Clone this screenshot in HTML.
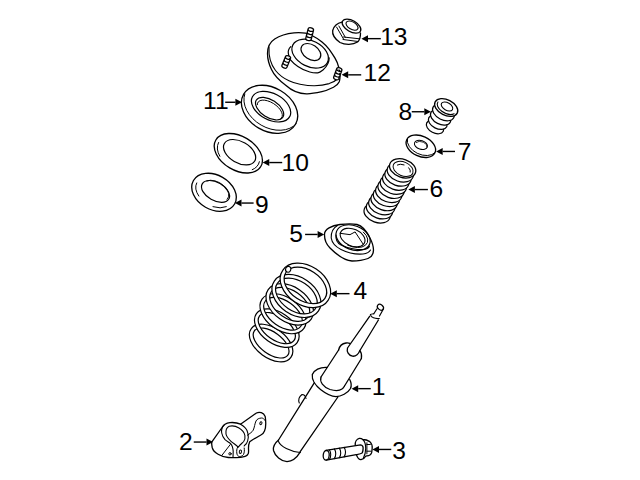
<!DOCTYPE html>
<html><head><meta charset="utf-8"><style>
html,body{margin:0;padding:0;background:#fff;width:640px;height:480px;overflow:hidden}
svg{display:block}
text{font-family:"Liberation Sans",sans-serif;font-size:24.6px;fill:#000;stroke:none}
</style></head><body>
<svg width="640" height="480" viewBox="0 0 640 480">
<g fill="none" stroke="#000" stroke-linecap="round" stroke-linejoin="round">
<text x="380.2" y="45.1">13</text>
<path d="M380.8,38.65 L368.00,38.65" stroke-width="1.4" stroke-linecap="butt"/>
<path d="M361.40,38.65 L368.00,35.15 L368.00,42.15 Z" fill="#000" stroke="none"/>
<text x="363.5" y="81">12</text>
<path d="M361.2,74.85 L348.20,74.85" stroke-width="1.4" stroke-linecap="butt"/>
<path d="M341.60,74.85 L348.20,71.35 L348.20,78.35 Z" fill="#000" stroke="none"/>
<text x="203.1" y="109">11</text>
<path d="M225.2,102.25 L235.40,102.25" stroke-width="1.4" stroke-linecap="butt"/>
<path d="M242.00,102.25 L235.40,98.75 L235.40,105.75 Z" fill="#000" stroke="none"/>
<text x="281.6" y="170.6">10</text>
<path d="M282.2,162.55 L269.25,162.55" stroke-width="1.4" stroke-linecap="butt"/>
<path d="M262.65,162.55 L269.25,159.05 L269.25,166.05 Z" fill="#000" stroke="none"/>
<text x="255" y="213">9</text>
<path d="M253.6,203.05 L241.50,203.05" stroke-width="1.4" stroke-linecap="butt"/>
<path d="M234.90,203.05 L241.50,199.55 L241.50,206.55 Z" fill="#000" stroke="none"/>
<text x="398.6" y="120">8</text>
<path d="M411.75,111.75 L424.30,111.75" stroke-width="1.4" stroke-linecap="butt"/>
<path d="M430.90,111.75 L424.30,108.25 L424.30,115.25 Z" fill="#000" stroke="none"/>
<text x="457.7" y="160.1">7</text>
<path d="M455,151.45 L442.70,151.45" stroke-width="1.4" stroke-linecap="butt"/>
<path d="M436.10,151.45 L442.70,147.95 L442.70,154.95 Z" fill="#000" stroke="none"/>
<text x="429.5" y="197.2">6</text>
<path d="M427.9,189.55 L414.90,189.55" stroke-width="1.4" stroke-linecap="butt"/>
<path d="M408.30,189.55 L414.90,186.05 L414.90,193.05 Z" fill="#000" stroke="none"/>
<text x="289.2" y="242.3">5</text>
<path d="M305.1,234.45 L317.60,234.45" stroke-width="1.4" stroke-linecap="butt"/>
<path d="M324.20,234.45 L317.60,230.95 L317.60,237.95 Z" fill="#000" stroke="none"/>
<text x="353.4" y="299.2">4</text>
<path d="M349.5,293.65 L336.80,293.65" stroke-width="1.4" stroke-linecap="butt"/>
<path d="M330.20,293.65 L336.80,290.15 L336.80,297.15 Z" fill="#000" stroke="none"/>
<text x="371.75" y="395">1</text>
<path d="M370.75,388.65 L358.20,388.65" stroke-width="1.4" stroke-linecap="butt"/>
<path d="M351.60,388.65 L358.20,385.15 L358.20,392.15 Z" fill="#000" stroke="none"/>
<text x="392.3" y="459">3</text>
<path d="M391.25,449.45 L379.00,449.45" stroke-width="1.4" stroke-linecap="butt"/>
<path d="M372.40,449.45 L379.00,445.95 L379.00,452.95 Z" fill="#000" stroke="none"/>
<text x="178.9" y="450">2</text>
<path d="M193.75,442.05 L206.50,442.05" stroke-width="1.4" stroke-linecap="butt"/>
<path d="M213.10,442.05 L206.50,438.55 L206.50,445.55 Z" fill="#000" stroke="none"/>
<path d="M341.9,22.2 C338,23 334,26 332.7,30.5 C332,35 335,39 340,42.5 C345,45 353,45 357.5,42 C360,40 360.5,37 360.5,33" stroke-width="1.3" />
<ellipse cx="351.5" cy="26.1" rx="10.3" ry="5.6" transform="rotate(30 351.5 26.1)" stroke-width="1.3" />
<ellipse cx="352" cy="25.6" rx="6.6" ry="3.7" transform="rotate(30 352 25.6)" stroke-width="1.1" />
<path d="M336.6,27.1 L343.4,38.8 M338.9,26 L345.3,37.3 M343.5,37 L359.5,38.8 M343,39.5 L358,41.5" stroke-width="1.0" />
<path d="M267.5,53.6 C267.5,47 270,42 274.7,39 C280,35.5 287,33.5 294,32.8 C300,32.3 306,32.5 311,35 C315,37 319,39.5 322,42 C325,44.5 327.5,47 329.2,49.3 C331.5,52.5 333.5,55.5 335,58.1 C337,61.5 338,64 338.6,66.8 C339.5,70 340.2,73 340.1,75.6 C340,78 339.8,80 339.4,81.4 C338,84.5 336,86 333.5,87.25 C330,89 326,90.8 321.9,91.6 C317,92.6 312,93.6 307.3,93.8 C300,94 292,91 285.7,85.3 C280,81 274,75 271.5,69.5 C269,64.5 267.5,59 267.5,53.6 Z" stroke-width="1.3" />
<path d="M269,47.3 C268.5,56 270.5,64 275.5,70.5 C279.5,75.5 284,78.5 289,80.8 C292.5,82.5 296,83.6 300,84.3 C305,85.2 310,85.9 314.6,85.8 C320,85.6 325,84.8 329.2,83.6 C333,82.3 336,80.5 337.9,78.5" stroke-width="1.1" />
<ellipse cx="310.15" cy="53.65" rx="19.39" ry="12.88" transform="rotate(26.9 310.15 53.65)" stroke-width="1.2" />
<path d="M290.75,46.7 C288.5,49 288,52 288.4,53.8 C288.8,57 289.5,59 290.75,60.2 C293,63 295.5,65 297.9,66.5 C301.5,69 305.5,71 309.75,72 C312.5,72.7 315,73 317.7,72.8 C319.8,72.5 321.5,71 323.2,69.7 C325.5,68 327,65.5 328,63.3 C328.8,61.5 329.2,59.5 329.2,57.8" stroke-width="1.2" />
<ellipse cx="310.9" cy="52.05" rx="10.87" ry="7.27" transform="rotate(33.8 310.9 52.05)" stroke-width="1.2" />
<path d="M-2.8,0 A2.8,1.7499999999999998 0 0 1 2.8,0 L2.8,9.5 A2.8,1.7499999999999998 0 0 1 -2.8,9.5 Z M-2.8,0 A2.8,1.7499999999999998 0 0 0 2.8,0 M-2.8,3.17 A2.8,1.7499999999999998 0 0 0 2.8,3.17 M-2.8,6.33 A2.8,1.7499999999999998 0 0 0 2.8,6.33 " transform="translate(310.8 29.6) rotate(14)" fill="#fff" stroke-width="1.25"/>
<path d="M-2.7,0 A2.7,1.6875 0 0 1 2.7,0 L2.7,9.5 A2.7,1.6875 0 0 1 -2.7,9.5 Z M-2.7,0 A2.7,1.6875 0 0 0 2.7,0 M-2.7,3.17 A2.7,1.6875 0 0 0 2.7,3.17 M-2.7,6.33 A2.7,1.6875 0 0 0 2.7,6.33 " transform="translate(288 57.5) rotate(22)" fill="#fff" stroke-width="1.25"/>
<path d="M-2.7,0 A2.7,1.6875 0 0 1 2.7,0 L2.7,9.0 A2.7,1.6875 0 0 1 -2.7,9.0 Z M-2.7,0 A2.7,1.6875 0 0 0 2.7,0 M-2.7,3.00 A2.7,1.6875 0 0 0 2.7,3.00 M-2.7,6.00 A2.7,1.6875 0 0 0 2.7,6.00 " transform="translate(339.3 69.5) rotate(20)" fill="#fff" stroke-width="1.25"/>
<ellipse cx="269.55" cy="109.28" rx="29.98" ry="21.7" transform="rotate(29.9 269.55 109.28)" stroke-width="1.3" />
<path d="M296.22,123.77 A30,21.7 30 0 1 244.76,94.06" stroke-width="1.0" />
<ellipse cx="271.05" cy="106.7" rx="21.13" ry="13.18" transform="rotate(28.1 271.05 106.7)" stroke-width="1.2" />
<ellipse cx="269.6" cy="108.65" rx="15.82" ry="8.8" transform="rotate(33.1 269.6 108.65)" stroke-width="1.2" />
<path d="M257.27,104.68 A14.3,7.3 33 1 1 280.46,119.01" stroke-width="1.0" />
<ellipse cx="238.32" cy="153.25" rx="26.11" ry="16.97" transform="rotate(30.6 238.32 153.25)" stroke-width="1.3" />
<ellipse cx="239.57" cy="152.2" rx="17.52" ry="10.62" transform="rotate(30.0 239.57 152.2)" stroke-width="1.2" />
<path d="M219.84,156.30 A22.5,15.5 30 0 1 218.56,142.48" stroke-width="1.0" />
<path d="M259.39,161.71 A23,15.5 30 0 1 252.25,169.71" stroke-width="1.0" />
<ellipse cx="214.03" cy="192.28" rx="23.69" ry="17.23" transform="rotate(29.7 214.03 192.28)" stroke-width="1.3" />
<ellipse cx="215.53" cy="191.43" rx="15.3" ry="9.06" transform="rotate(29.7 215.53 191.43)" stroke-width="1.2" />
<path d="M206.85,181.00 A14,8.5 33 0 1 227.06,199.35" stroke-width="0.9" />
<path d="M198.85,196.09 A19.69,13.23 29.7 0 1 196.70,182.93" stroke-width="1.0" />
<path d="M226.32,206.71 A20.19,13.73 29.7 0 1 212.97,206.71" stroke-width="1.0" />
<ellipse cx="435.0" cy="127.1" rx="9.3" ry="5.85" transform="rotate(27 435.0 127.1)" stroke-width="1.2" fill="#fff"/>
<ellipse cx="437.8" cy="122.2" rx="10.08" ry="6.34" transform="rotate(27 437.8 122.2)" stroke-width="1.2" fill="#fff"/>
<ellipse cx="440.6" cy="117.3" rx="10.85" ry="6.83" transform="rotate(27 440.6 117.3)" stroke-width="1.2" fill="#fff"/>
<ellipse cx="443.4" cy="112.4" rx="11.62" ry="7.31" transform="rotate(27 443.4 112.4)" stroke-width="1.2" fill="#fff"/>
<ellipse cx="446.2" cy="107.5" rx="12.4" ry="7.8" transform="rotate(27 446.2 107.5)" stroke-width="1.3" fill="#fff"/>
<path d="M454.13,113.78 A10.4,6.1 27 0 1 437.91,102.02" stroke-width="1.1" />
<ellipse cx="447" cy="106.5" rx="6.3" ry="3.8" transform="rotate(30 447 106.5)" stroke-width="1.1" />
<ellipse cx="420.85" cy="146.25" rx="15.58" ry="10.07" transform="rotate(25.0 420.85 146.25)" stroke-width="1.3" />
<path d="M434.88,152.69 A15.58,10.07 25.0 0 1 407.37,139.10" stroke-width="1.0" />
<ellipse cx="420.95" cy="144.85" rx="6.73" ry="4.27" transform="rotate(17.4 420.95 144.85)" stroke-width="1.0" />
<path d="M416.22,142.46 A6.03,3.6699999999999995 17.4 0 1 427.00,147.15" stroke-width="0.8" />
<ellipse cx="377.15" cy="213.35" rx="13.57" ry="9.06" transform="rotate(19.3 377.15 213.35)" stroke-width="1.2" fill="#fff"/>
<ellipse cx="379.47" cy="209.26" rx="13.57" ry="9.06" transform="rotate(19.3 379.47 209.26)" stroke-width="1.2" fill="#fff"/>
<ellipse cx="381.79" cy="205.17" rx="13.57" ry="9.06" transform="rotate(19.3 381.79 205.17)" stroke-width="1.2" fill="#fff"/>
<ellipse cx="384.1" cy="201.08" rx="13.57" ry="9.06" transform="rotate(19.3 384.1 201.08)" stroke-width="1.2" fill="#fff"/>
<ellipse cx="386.42" cy="196.99" rx="13.57" ry="9.06" transform="rotate(19.3 386.42 196.99)" stroke-width="1.2" fill="#fff"/>
<ellipse cx="388.74" cy="192.9" rx="13.57" ry="9.06" transform="rotate(19.3 388.74 192.9)" stroke-width="1.2" fill="#fff"/>
<ellipse cx="391.06" cy="188.8" rx="13.57" ry="9.06" transform="rotate(19.3 391.06 188.8)" stroke-width="1.2" fill="#fff"/>
<ellipse cx="393.38" cy="184.71" rx="13.57" ry="9.06" transform="rotate(19.3 393.38 184.71)" stroke-width="1.2" fill="#fff"/>
<ellipse cx="395.7" cy="180.62" rx="13.57" ry="9.06" transform="rotate(19.3 395.7 180.62)" stroke-width="1.2" fill="#fff"/>
<ellipse cx="398.01" cy="176.53" rx="13.57" ry="9.06" transform="rotate(19.3 398.01 176.53)" stroke-width="1.2" fill="#fff"/>
<ellipse cx="400.33" cy="172.44" rx="13.57" ry="9.06" transform="rotate(19.3 400.33 172.44)" stroke-width="1.2" fill="#fff"/>
<ellipse cx="402.65" cy="168.35" rx="13.57" ry="9.06" transform="rotate(19.3 402.65 168.35)" stroke-width="1.3" fill="#fff"/>
<ellipse cx="403.1" cy="168.9" rx="10.62" ry="6.86" transform="rotate(23.8 403.1 168.9)" stroke-width="1.0" />
<path d="M397.37,164.95 A7.6,4.3 24 0 1 404.07,164.88" stroke-width="1.0" />
<path d="M408.71,167.76 A7.6,4.3 24 0 1 410.30,172.15" stroke-width="1.0" />
<path d="M324.5,235 C324,229 332,225.5 340,224.5 C346,223.8 352,223.5 357,224.5 C363,226 367,232 370,238 C372,242 373.5,247 373.5,250 C373.5,254 372,257 368,258.5 C364,260 358,261 352,261 C344,260.5 336,254 330,248 C326,244 324.5,240 324.5,235 Z" stroke-width="1.3" />
<path d="M337.5,225.5 C333,228 331,233 331.2,238 C332,243 336,247 341,249.5 C348,253 356,254.5 363,254 C367,253.5 369.5,252 370.5,250" stroke-width="1.1" />
<path d="M336,235 C335.5,239 337.5,243 341,245 C348,248.5 358,250 364,249.5 C367,249 369,247.5 369.5,246" stroke-width="1.1" />
<ellipse cx="353.1" cy="237.65" rx="17.72" ry="11.98" transform="rotate(20.8 353.1 237.65)" stroke-width="1.2" />
<path d="M363.31,232.08 A15.12,9.58 20.8 0 1 347.50,245.04" stroke-width="1.0" />
<ellipse cx="352.6" cy="237.5" rx="13.01" ry="8.43" transform="rotate(23.4 352.6 237.5)" stroke-width="1.1" />
<path d="M340,233.3 L350,234.65 L355.1,231.9 L362.9,243.8" stroke-width="1.0" />
<path d="M290.89,357.38 A24.48,14.62 36.0 1 1 251.29,328.60 A24.48,14.62 36.0 1 1 290.89,357.38 Z M287.82,355.15 A20.68,10.82 36.0 1 1 254.36,330.83 A20.68,10.82 36.0 1 1 287.82,355.15 Z" fill="#fff" fill-rule="evenodd" stroke-width="1.2"/>
<path d="M297.17,342.65 A25.02,15.60 35.5 1 1 256.43,313.59 A25.02,15.60 35.5 1 1 297.17,342.65 Z M294.08,340.44 A21.22,11.80 35.5 1 1 259.52,315.80 A21.22,11.80 35.5 1 1 294.08,340.44 Z" fill="#fff" fill-rule="evenodd" stroke-width="1.2"/>
<path d="M303.95,328.41 A25.57,16.57 35.0 1 1 262.05,299.07 A25.57,16.57 35.0 1 1 303.95,328.41 Z M300.83,326.23 A21.77,12.77 35.0 1 1 265.17,301.25 A21.77,12.77 35.0 1 1 300.83,326.23 Z" fill="#fff" fill-rule="evenodd" stroke-width="1.2"/>
<path d="M311.22,319.15 A26.11,17.55 34.5 1 1 268.18,289.57 A26.11,17.55 34.5 1 1 311.22,319.15 Z M308.09,317.00 A22.31,13.75 34.5 1 1 271.31,291.72 A22.31,13.75 34.5 1 1 308.09,317.00 Z" fill="#fff" fill-rule="evenodd" stroke-width="1.2"/>
<path d="M318.51,310.89 A26.66,18.52 34.0 1 1 274.31,281.07 A26.66,18.52 34.0 1 1 318.51,310.89 Z M315.36,308.76 A22.86,14.72 34.0 1 1 277.46,283.20 A22.86,14.72 34.0 1 1 315.36,308.76 Z" fill="#fff" fill-rule="evenodd" stroke-width="1.2"/>
<path d="M328.08,300.41 A27.20,19.30 33.5 1 1 282.72,270.39 A27.20,19.30 33.5 1 1 328.08,300.41 Z M324.91,298.32 A23.40,15.50 33.5 1 1 285.89,272.48 A23.40,15.50 33.5 1 1 324.91,298.32 Z" fill="#fff" fill-rule="evenodd" stroke-width="1.2"/>
<ellipse cx="288.2" cy="269.3" rx="2.6" ry="2.9" transform="rotate(20 288.2 269.3)" stroke-width="1.1" fill="#fff"/>
<ellipse cx="380.4" cy="307.2" rx="3.4" ry="2.5" transform="rotate(40 380.4 307.2)" stroke-width="1.2" />
<path d="M377,308.8 L373.8,313.8 M383.4,309 L379.5,316" stroke-width="1.2" />
<path d="M370.4,314.6 C371,317.5 375,319 379.3,318.5 M373.8,313.8 C372,314 370.6,314.2 370.4,314.6" stroke-width="1.1" />
<path d="M369.6,316.3 L347.5,348 C346.5,351.5 348.5,355.5 352.5,356.2 C356,356.5 358.5,354 359.9,350.5 L378.4,320" stroke-width="1.3" />
<path d="M338.6,350 C339.5,346 342,343.5 346,343 C347.5,342.8 348.8,342.9 349.8,343.3 M359.9,350.5 C361.3,352.5 362,355 361.4,358.5" stroke-width="1.3" />
<path d="M338.6,350 L321,377 M361.4,358.5 L344.5,386" stroke-width="1.3" />
<path d="M321,377 C319.5,382 323,387 330,389.5 C335,391 340,390.5 342,389 C343.5,388 344,387 344.5,386" stroke-width="1.2" />
<path d="M326.75,367.4 C320,367 314,370 312.3,374.5 C311.5,380 316,386 320.5,389.5 C325,393 330,396.5 336,396.6 C341,396.5 348,393 350.5,388.5 C351.8,385.5 351,382 349.7,379.5" stroke-width="1.3" />
<path d="M314.25,382.8 L278.5,440 M337.9,397 L300.2,451.7" stroke-width="1.3" />
<path d="M278.5,441.5 C280.5,446.5 290,451.5 300.2,452.5" stroke-width="1.1" />
<path d="M278.5,440 C275,443 272.8,447 273.5,450.5 C275,456 281,461.5 287,461.7 C292,461.5 296,459 300.2,452.2" stroke-width="1.3" />
<path d="M299.3,403 C298,399.5 299.3,396.5 302,394.5 C304,394.5 305.5,396 306,398.5" stroke-width="1.1" />
<path d="M355.25,445.1 C355,442 356.5,439 359.3,438.4 C361,438.2 362.2,439 362.8,439.5 C364.5,439.5 367,439.8 369.8,441.6 C371.8,443.5 372.4,446 372.2,448 C372,450.5 371.8,452 371.6,452.7 C371,454.5 369.5,455.5 368.7,455.6 C367.5,455.8 366.5,456 365.7,456.2 C365,457.5 364,459 361,459.7 C359.5,459.8 357.8,458.5 356.4,454.7" stroke-width="1.3" />
<path d="M362.8,439.5 C364.5,441 365.7,445 365.7,448.6 C365.7,452 365,455 363.4,457.9" stroke-width="1.1" />
<path d="M366.9,442.75 L366.9,453.8 M366.9,444.5 L370.3,444.5 M366.9,451.2 L371,451.2" stroke-width="1.0" />
<path d="M326,450.3 L360.5,444.8 C362.5,445 363.3,447 363.1,448.6 C363,451 362.5,452.8 361.7,453.25 C360,453.8 358.5,454.2 357.6,454.4 L326.4,460.1" stroke-width="1.3" />
<ellipse cx="326.2" cy="455.3" rx="3.0" ry="4.8" transform="rotate(5 326.2 455.3)" stroke-width="1.3" />
<path d="M329.30,449.73 C331.20,452.23 331.20,457.02 329.30,459.52" stroke-width="1.1" />
<path d="M334.30,448.93 C336.20,451.43 336.20,456.12 334.30,458.62" stroke-width="1.1" />
<path d="M339.30,448.14 C341.20,450.64 341.20,455.22 339.30,457.72" stroke-width="1.1" />
<path d="M344.10,447.37 C346.00,449.87 346.00,454.36 344.10,456.86" stroke-width="1.1" />
<path d="M211.7,442.2 L221.7,428 C223,425.5 226,423 230,422.6 C234,422.3 238,423 240.5,424.2 L256.4,413 C259.5,411.5 263.5,412.5 265.2,416.5 C266,422 265.8,428 264.5,431 C263.5,433.5 262,434.5 260.9,435 L253,439.5 L249.7,441.8 C248.7,444 248.5,446 248.5,448 C248.5,450 248.8,452 248.3,453.5 C247.5,455.5 246.5,456 245.1,456.4 C242,457.3 239,457.6 236.1,457.6 C233,457.6 230.5,457.8 228.3,457.5 C224,457 221,456 218.1,454.2 C215,452.5 212.8,450 212.2,447.5 C211.8,445.5 211.6,443.5 211.7,442.2 Z" stroke-width="1.3" />
<path d="M224.2,424.8 C221.8,427.5 221.2,430.5 221.7,433 C222.3,436 223.5,438 225,439.7 C227,441.5 229.5,442.5 230.8,443.8 C232.2,445.2 232.9,447.5 233.2,451.3 L233,457.5" stroke-width="1.1" />
<path d="M238.3,447.2 C236.5,445 233.5,443.5 231,441.3 C228.5,439 226.5,437 226,434 C225.6,430.5 226.5,427.5 229.2,426.3 C232,425.5 236,426.2 239,428 C242,429.8 244.3,432.5 244.9,435.5 C245.3,438 244.8,440 243.7,441.5 C242.2,443.2 240,444.5 238.3,447.2" stroke-width="1.1" />
<path d="M240.5,424.2 C243.5,426 246,428 247,430.5 C248,433 248.5,435 248.3,437.5 C248,440 247.5,442 246.6,443.3 C245.5,444.6 244.7,445.2 244.2,446" stroke-width="1.1" />
<path d="M237.5,447.4 C236.8,449 236.5,451 236.8,453 C237,455 238,456.4 239.4,456.5 C241,456.6 242.6,455.8 243.5,454.5 C244.5,452.5 244.5,450 244.2,448" stroke-width="1.0" />
<path d="M221.7,455.6 L230.2,444.6" stroke-width="1.0" />
<path d="M247.4,435.2 C250,433.5 252.2,432 253.2,430.2 C254.5,427.5 254.8,423.5 256,421 C257,419 259,418.2 261.5,418 C263,418 264.3,419 264.9,420.4" stroke-width="1.0" />
<ellipse cx="230" cy="453.8" rx="1.2" ry="1.2" transform="rotate(0 230 453.8)" stroke-width="1.0" />
<ellipse cx="240.4" cy="451.75" rx="1.1" ry="1.7" transform="rotate(10 240.4 451.75)" stroke-width="1.0" />
<ellipse cx="260.9" cy="423.2" rx="1.0" ry="1.5" transform="rotate(25 260.9 423.2)" stroke-width="1.0" />
</g>
</svg>
</body></html>
